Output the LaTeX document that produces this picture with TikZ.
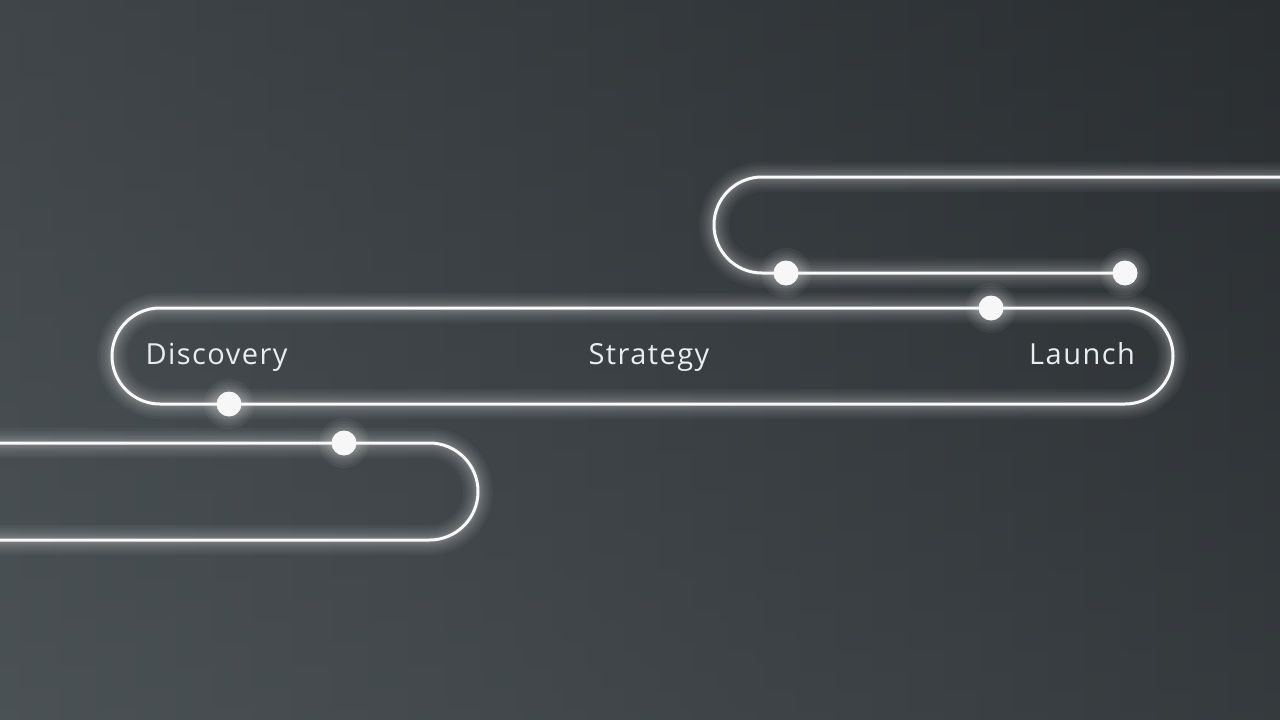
\documentclass[tikz,border=0pt]{standalone}
\usepackage{fontspec}
\setmainfont{Open Sans}
\newfontfamily\labelfont[LetterSpace=5]{Open Sans}
\usetikzlibrary{calc}
\definecolor{bgl}{HTML}{4B5256}
\definecolor{bgr}{HTML}{2A2E31}
\definecolor{txt}{HTML}{E9EDEF}
\tikzset{
  glowline/.style={draw=white, line width=#1, opacity=0.035, line cap=round, line join=round},
  core/.style={draw=white!95!gray, line width=3pt, line cap=round},
  dotnode/.style={circle, fill=white!94!gray, minimum size=25pt, inner sep=0pt},
  dotglow/.style={circle, fill=white, opacity=0.05, minimum size=#1, inner sep=0pt},
  label/.style={text=txt, font=\labelfont\fontsize{29}{34}\selectfont, anchor=base}
}
\begin{document}
\begin{tikzpicture}[x=1pt,y=-1pt]
\useasboundingbox (0,0) rectangle (1280,720);
\shade[left color=bgl, right color=bgr] (0,0) rectangle (1280,720);
\shade[top color=bgr, bottom color=bgl, opacity=0.35] (0,0) rectangle (1280,720);
% glow layers
\foreach \w in {30,25,21,17,14,11,9,7,5}{
  \draw[glowline=\w pt, rounded corners=48pt] (1290,177) -- (714,177) -- (714,273) -- (1125,273);
  \draw[glowline=\w pt, rounded corners=48pt] (112,308) rectangle (1173,404);
  \draw[glowline=\w pt, rounded corners=48.5pt] (-10,443) -- (478,443) -- (478,540) -- (-10,540);
}
\draw[core, rounded corners=48pt] (1290,177) -- (714,177) -- (714,273) -- (1125,273);
\draw[core, rounded corners=48pt] (112,308) rectangle (1173,404);
\draw[core, rounded corners=48.5pt] (-10,443) -- (478,443) -- (478,540) -- (-10,540);
% dots
\foreach \n/\x/\y in {d1/786/273, d2/1125/273, d3/991/308, d4/229/404, d5/344/443}{
  \foreach \s in {50,44,39,34,30}{
    \node[dotglow=\s pt] at (\x,\y) {};
  }
  \node[dotnode] (\n) at (\x,\y) {};
}
% labels
\node[label] (discovery) at (216.5,364) {Discovery};
\node[label] (strategy) at (649,364) {Strategy};
\node[label] (launch) at (1082,364) {Launch};
\end{tikzpicture}
\end{document}
